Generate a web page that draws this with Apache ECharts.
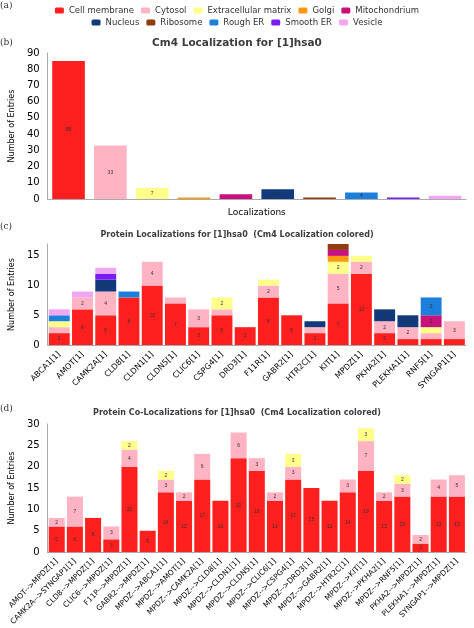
<!DOCTYPE html>
<html><head><meta charset="utf-8">
<script src="https://cdn.jsdelivr.net/npm/echarts@6/dist/echarts.min.js"></script>
<style>html,body{margin:0;padding:0;background:#fff}#main{width:474px;height:628px}</style>
</head><body><div id="main"></div>
<script>
const locNames = ["Cell membrane","Cytosol","Extracellular matrix","Golgi","Mitochondrium","Nucleus","Ribosome","Rough ER","Smooth ER","Vesicle"];
const locColors = ["#ff1f1f","#ffb3c3","#ffff8a","#ff9a10","#c8117a","#123a7a","#8e3c10","#1c7fdc","#7a1cf5","#f2a6f2"];
const locCounts = [85,33,7,1,3,6,1,4,1,2];

const proteins = ["ABCA1[1]","AMOT[1]","CAMK2A[1]","CLD8[1]","CLDN1[1]","CLDN5[1]","CLIC6[1]","CSPG4[1]","DRD3[1]","F11R[1]","GABR2[1]","HTR2C[1]","KIT[1]","MPDZ[1]","PKHA2[1]","PLEKHA1[1]","RNF5[1]","SYNGAP1[1]"];
// one array per localization, same order as proteins
const protCM   = [2,6,5,8,10,7,3,5,3,8,5,2,7,12,2,1,1,1];
const protCyt  = [1,2,4,0,4,1,3,1,0,2,0,1,5,2,2,2,1,3];
const protECM  = [1,0,0,0,0,0,0,2,0,1,0,0,2,1,0,0,1,0];
const protGol  = [0,0,0,0,0,0,0,0,0,0,0,0,1,0,0,0,0,0];
const protMit  = [0,0,0,0,0,0,0,0,0,0,0,0,1,0,0,0,2,0];
const protNuc  = [0,0,2,0,0,0,0,0,0,0,0,1,0,0,2,2,0,0];
const protRib  = [0,0,0,0,0,0,0,0,0,0,0,0,1,0,0,0,0,0];
const protRER  = [1,0,0,1,0,0,0,0,0,0,0,0,0,0,0,0,3,0];
const protSER  = [0,0,1,0,0,0,0,0,0,0,0,0,0,0,0,0,0,0];
const protVes  = [1,1,1,0,0,0,0,0,0,0,0,0,0,0,0,0,0,0];
const protStacks = [protCM,protCyt,protECM,protGol,protMit,protNuc,protRib,protRER,protSER,protVes];

const pairs = ["AMOT-->MPDZ[1]","CAMK2A-->SYNGAP1[1]","CLD8-->MPDZ[1]","CLIC6-->MPDZ[1]","F11P-->MPDZ[1]","GABR2-->MPDZ[1]","MPDZ-->ABCA1[1]","MPDZ-->AMOT[1]","MPDZ-->CAMK2A[1]","MPDZ-->CLD8[1]","MPDZ-->CLDN1[1]","MPDZ-->CLDN5[1]","MPDZ-->CLIC6[1]","MPDZ-->CSPG4[1]","MPDZ-->DRD3[1]","MPDZ-->GABR2[1]","MPDZ-->HTR2C[1]","MPDZ-->KIT[1]","MPDZ-->PKHA2[1]","MPDZ-->RNF5[1]","PKHA2-->MPDZ[1]","PLEKHA1-->MPDZ[1]","SYNGAP1-->MPDZ[1]"];
const pairCM  = [6,6,8,3,20,5,14,12,17,12,22,19,12,17,15,12,14,19,12,13,2,13,13];
const pairCyt = [2,7,0,3,4,0,3,2,6,0,6,3,2,3,0,0,3,7,2,3,2,4,5];
const pairECM = [0,0,0,0,2,0,2,0,0,0,0,0,0,3,0,0,0,3,0,2,0,0,0];
const pairStacks = [pairCM,pairCyt,pairECM];

const chart = echarts.init(document.getElementById("main"));
const font = "DejaVu Sans";
const inLabel = {show:true,position:"inside",fontSize:5,color:"#333",formatter:p=>p.value>1?p.value:""};
const yAxisBase = {type:"value",min:0,axisLine:{show:true,lineStyle:{color:"#aaa"}},
  axisTick:{show:false},splitLine:{show:false},axisLabel:{fontFamily:font,fontSize:10,color:"#000",showMaxLabel:false},
  nameLocation:"middle",name:"Number of Entries",nameTextStyle:{fontFamily:font,fontSize:8,color:"#000"}};
const xBase = {type:"category",axisTick:{show:false},axisLine:{lineStyle:{color:"#aaa"}}};

const series = [];
series.push({type:"bar",xAxisIndex:0,yAxisIndex:0,barCategoryGap:"22%",
  data:locCounts.map((v,i)=>({value:v,itemStyle:{color:locColors[i]}})),
  label:{show:true,position:"inside",fontSize:5,color:"#333",formatter:p=>p.value>3?p.value:""}});
protStacks.forEach((arr,i)=>series.push({name:locNames[i],type:"bar",stack:"c",xAxisIndex:1,yAxisIndex:1,
  barCategoryGap:"10%",itemStyle:{color:locColors[i]},data:arr.map(v=>v||null),label:inLabel}));
pairStacks.forEach((arr,i)=>series.push({name:locNames[i],type:"bar",stack:"d",xAxisIndex:2,yAxisIndex:2,
  barCategoryGap:"12%",itemStyle:{color:locColors[i]},data:arr.map(v=>v||null),label:inLabel}));

const tag = (t,x,y)=>({type:"text",left:x,top:y,style:{text:t,font:"9px 'DejaVu Serif'",fill:"#333"}});
const legendBase = {left:"center",itemWidth:9,itemHeight:6,itemGap:7,textStyle:{fontFamily:font,fontSize:8.5,color:"#333"}};

chart.setOption({
  animation:false,
  legend:[
    {...legendBase,data:locNames.slice(0,5),top:1},
    {...legendBase,data:locNames.slice(5),top:13}
  ],
  title:[
    {text:"Cm4 Localization for [1]hsa0",left:"center",top:33,textStyle:{fontFamily:font,fontSize:10.5,fontWeight:"bold"}},
    {text:"Protein Localizations for [1]hsa0  (Cm4 Localization colored)",left:"center",top:226,textStyle:{fontFamily:font,fontSize:8,fontWeight:"bold"}},
    {text:"Protein Co-Localizations for [1]hsa0  (Cm4 Localization colored)",left:"center",top:404,textStyle:{fontFamily:font,fontSize:8,fontWeight:"bold"}}
  ],
  graphic:[tag("(a)",0,1),tag("(b)",0,38),tag("(c)",0,222),tag("(d)",0,404)],
  grid:[
    {left:33,right:8,top:53,height:146},
    {left:33,right:8,top:244,height:101},
    {left:33,right:8,top:424,height:133}
  ],
  xAxis:[
    {...xBase,gridIndex:0,data:locNames,axisLabel:{show:false},name:"Localizations",nameLocation:"middle",nameGap:9,
      nameTextStyle:{fontFamily:font,fontSize:9,color:"#000"}},
    {...xBase,gridIndex:1,data:proteins,axisLabel:{interval:0,rotate:45,fontFamily:font,fontSize:8,color:"#000"}},
    {...xBase,gridIndex:2,data:pairs,axisLabel:{interval:0,rotate:45,fontFamily:font,fontSize:7.5,color:"#000"}}
  ],
  yAxis:[
    {...yAxisBase,gridIndex:0,max:90,interval:10,nameGap:20,axisLabel:{...yAxisBase.axisLabel,showMaxLabel:true}},
    {...yAxisBase,gridIndex:1,max:17,interval:5,nameGap:20},
    {...yAxisBase,gridIndex:2,max:30,interval:5,nameGap:20,axisLabel:{...yAxisBase.axisLabel,showMaxLabel:true}}
  ],
  series
});
</script></body></html>
